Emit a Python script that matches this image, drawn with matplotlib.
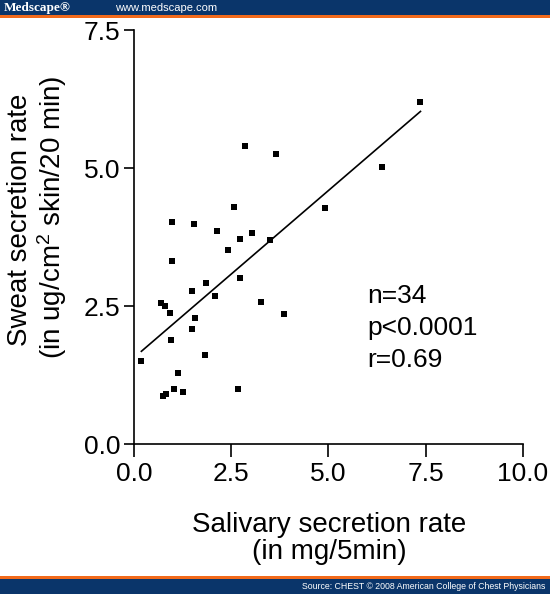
import numpy as np
import matplotlib
matplotlib.use("Agg")
import matplotlib.pyplot as plt
from matplotlib.patches import Rectangle

# salivary secretion (mg/5min) vs sweat secretion (ug/cm2 skin/20 min), n=34
saliva = [2.85, 3.66, 2.58, 4.91, 0.97, 1.55, 2.13, 3.03, 2.72, 3.50,
          2.42, 0.98, 2.73, 1.85, 1.49, 2.09, 3.26, 0.70, 0.81, 3.86,
          0.92, 1.58, 1.48, 0.95, 0.19, 1.83, 1.12, 1.03, 2.68, 1.25,
          0.82, 0.75, 7.37, 6.38]
sweat = [5.39, 5.25, 4.30, 4.27, 4.02, 3.99, 3.86, 3.82, 3.71, 3.70,
         3.51, 3.31, 3.00, 2.92, 2.77, 2.69, 2.57, 2.55, 2.50, 2.36,
         2.37, 2.29, 2.09, 1.89, 1.50, 1.61, 1.29, 1.00, 1.00, 0.95,
         0.90, 0.87, 6.19, 5.01]
xticks = [0.0, 2.5, 5.0, 7.5, 10.0]
yticks = [0.0, 2.5, 5.0, 7.5]
stats = ["n=34", "p<0.0001", "r=0.69"]

navy = "#0a356a"
orange = "#f26a1b"

plt.rcParams['font.family'] = ['Liberation Sans', 'DejaVu Sans']
plt.rcParams['mathtext.fontset'] = 'custom'
plt.rcParams['mathtext.rm'] = 'Liberation Sans'
plt.rcParams['mathtext.it'] = 'Liberation Sans'

W, H = 550, 594
fig = plt.figure(figsize=(W/100, H/100), dpi=100)

# header / footer bands
fig.add_artist(Rectangle((0, 1-15/H), 1, 15/H, transform=fig.transFigure, color=navy, lw=0))
fig.add_artist(Rectangle((0, 1-18/H), 1, 3/H, transform=fig.transFigure, color=orange, lw=0))
fig.add_artist(Rectangle((0, 0), 1, 15/H, transform=fig.transFigure, color=navy, lw=0))
fig.add_artist(Rectangle((0, 15/H), 1, 3/H, transform=fig.transFigure, color=orange, lw=0))
fig.text(4/W, 1-8/H, "Medscape\u00ae", color="white", fontsize=9.5, family="Liberation Serif",
         weight="bold", va="center")
fig.text(115/W, 1-8/H, "www.medscape.com", color="white", fontsize=8, va="center")
fig.text(545/W, 7.5/H, "Source: CHEST \u00a9 2008 American College of Chest Physicians",
         color="white", fontsize=6.3, ha="right", va="center")

ax = fig.add_axes([134/W, 1-444/H, (522.7-134)/W, (444-30)/H])
ax.scatter(saliva, sweat, marker="s", s=14, color="black", linewidths=0)

x = np.array(saliva)
y = np.array(sweat)
k, b = np.polyfit(x, y, 1)
xs = np.array([x.min(), x.max()])
ax.plot(xs, k*xs + b, color="black", lw=1.2)

ax.set_xlim(0, 10)
ax.set_ylim(0, 7.5)
ax.set_xticks(xticks)
ax.set_yticks(yticks)
ax.set_xticklabels(["%.1f" % v for v in xticks])
ax.set_yticklabels(["%.1f" % v for v in yticks])
for s in ["top", "right"]:
    ax.spines[s].set_visible(False)
for s in ["left", "bottom"]:
    ax.spines[s].set_linewidth(1.2)
ax.tick_params(axis="x", length=9, width=1.2, labelsize=19, pad=4)
ax.tick_params(axis="y", length=7, width=1.2, labelsize=19, pad=3)

for i, t in enumerate(stats):
    fig.text(367/W, 1-(303 + 32*i)/H, t, fontsize=19, ha="left", va="baseline")

fig.text(20/W, 1-220/H, "Sweat secretion rate", fontsize=20, rotation=90, ha="center", va="center")
fig.text(52/W, 1-217/H, r"(in ug/cm$^2$ skin/20 min)", fontsize=20, rotation=90, ha="center", va="center")
fig.text(329/W, 1-525/H, "Salivary secretion rate", fontsize=20, ha="center", va="center")
fig.text(329/W, 1-552/H, "(in mg/5min)", fontsize=20, ha="center", va="center")

fig.savefig("out.png", dpi=100)
